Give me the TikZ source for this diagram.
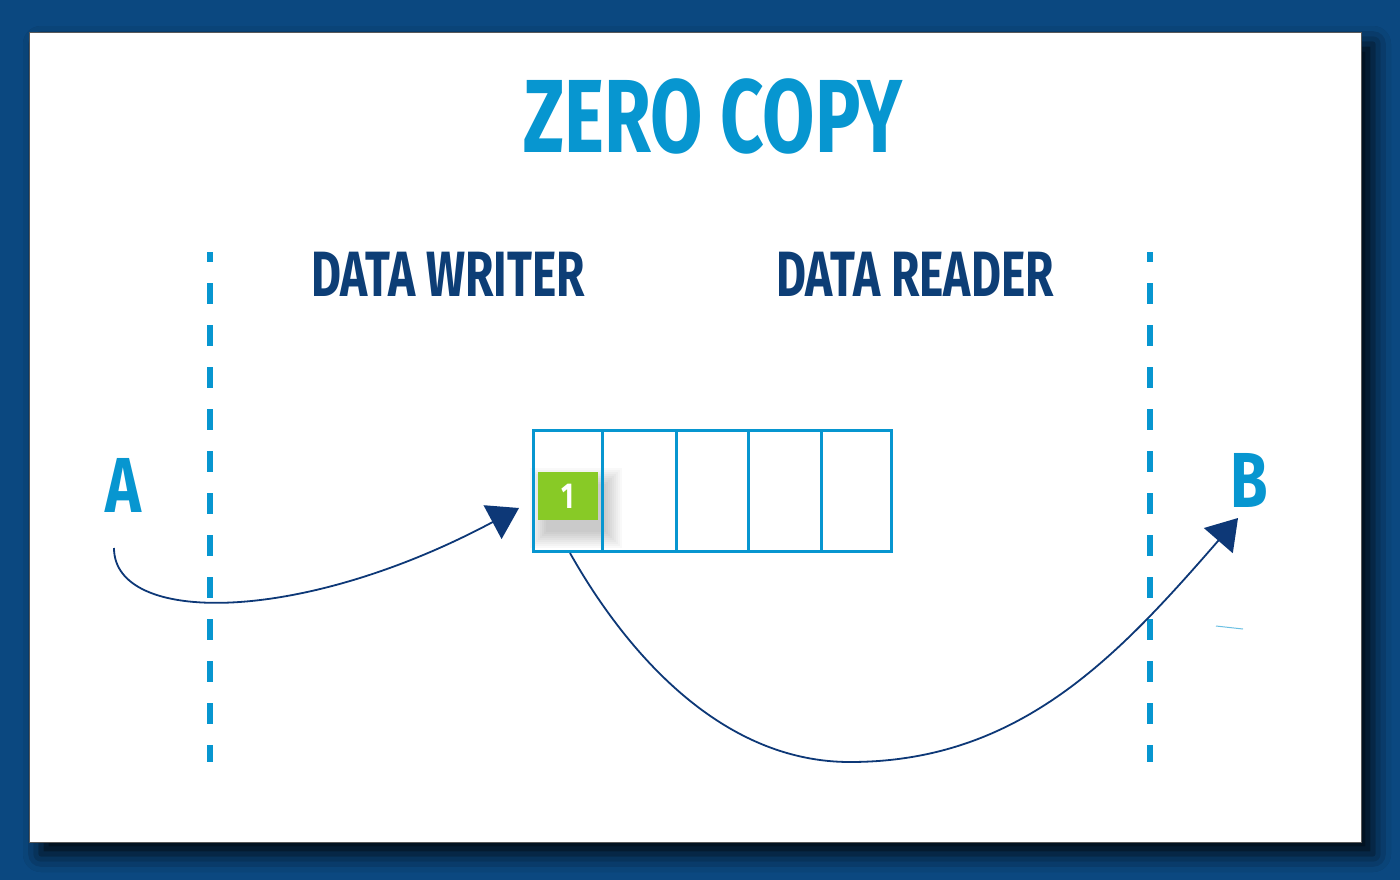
\documentclass[tikz,border=0pt]{standalone}
\usepackage{fontspec}
\setmainfont{Fira Sans}
\usetikzlibrary{shadows.blur,arrows.meta}
\definecolor{bgblue}{HTML}{0B4880}
\definecolor{titleblue}{HTML}{0796D0}
\definecolor{navy}{HTML}{0D3E76}
\definecolor{linenavy}{HTML}{0D3877}
\definecolor{lgreen}{HTML}{88CA26}
\begin{document}
\begin{tikzpicture}[x=1pt,y=-1pt,
  title/.style={text=titleblue,inner sep=0pt,font=\bfseries\fontsize{104}{104}\selectfont},
  head/.style={text=navy,inner sep=0pt,font=\bfseries\fontsize{64}{64}\selectfont},
  endpt/.style={text=titleblue,inner sep=0pt,font=\bfseries\fontsize{78}{78}\selectfont},
  dashline/.style={titleblue,line width=6pt,dash pattern=on 21pt off 21pt,dash phase=11pt},
  cell/.style={draw=titleblue,line width=3pt,minimum height=121pt,inner sep=0pt,anchor=west},
  flow/.style={linenavy,line width=1.8pt,-{Triangle[length=30pt,width=38pt]}},
  softshade/.style={fill=black,opacity=0.022}
]
\fill[bgblue] (0,0) rectangle (1400,880);
\useasboundingbox (0,0) rectangle (1400,880);
\fill[white,draw=gray!70!black,line width=0.8pt,blur shadow={shadow xshift=12pt,shadow yshift=-12pt,shadow blur radius=18pt,shadow opacity=90}] (29,32) rectangle (1361,842);

\node[title] (ttl) at (713,116) {\scalebox{0.73}[1]{ZERO COPY}};
\node[head] (wr) at (448,274) {\scalebox{0.72}[1]{DATA WRITER}};
\node[head] (rd) at (915,274) {\scalebox{0.72}[1]{DATA READER}};
\node[endpt] (A) at (123,485) {\scalebox{0.78}[1]{A}};
\node[endpt] (B) at (1249,480) {\scalebox{0.78}[1]{B}};

\coordinate (l1t) at (210,252);
\coordinate (l1b) at (210,762);
\coordinate (l2t) at (1150,252);
\coordinate (l2b) at (1150,762);
\draw[dashline] (l1t) -- (l1b);
\draw[dashline] (l2t) -- (l2b);

\foreach \i in {0,2,...,16} {
  \fill[softshade] (546-\i,484-\i) rectangle (606+\i,532+\i);
}

\node[cell,minimum width=69pt] (c1) at (532,491) {};
\node[cell,minimum width=74pt] (c2) at (601,491) {};
\node[cell,minimum width=72pt] (c3) at (675,491) {};
\node[cell,minimum width=73pt] (c4) at (747,491) {};
\node[cell,minimum width=70pt] (c5) at (820,491) {};

\node[fill=lgreen,minimum width=60pt,minimum height=48pt,inner sep=0pt,text=white,
  font=\bfseries\fontsize{36}{36}\selectfont] (one) at (568,496) {\scalebox{0.75}[1]{1}};

\coordinate (a0) at (114,548);
\coordinate (a1) at (519,508);
\coordinate (b0) at (570,553);
\coordinate (bm) at (850,762);
\coordinate (b1) at (1238,518);
\draw[flow] (a0) .. controls (114,625) and (300,625) .. (a1);
\draw[flow] (b0) .. controls (615,633) and (710,762) .. (bm) .. controls (1020,762) and (1118,656) .. (b1);

\coordinate (s0) at (1216,626);
\coordinate (s1) at (1243,629);
\draw[titleblue!60,line width=1pt] (s0) -- (s1);
\end{tikzpicture}
\end{document}
